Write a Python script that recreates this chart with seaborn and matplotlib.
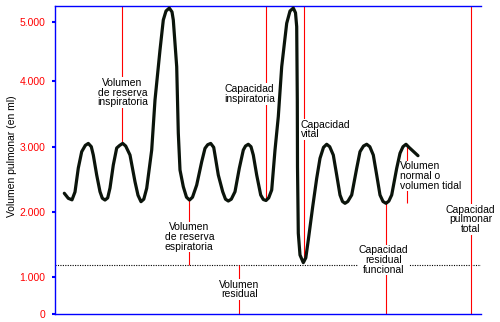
import numpy as np
import matplotlib
matplotlib.use("Agg")
import matplotlib.pyplot as plt
import seaborn as sns
import pandas as pd

sns.set_style("white")
plt.rcParams['font.family'] = ['Liberation Sans', 'DejaVu Sans']

# ---- data (time in arbitrary units, volume in ml) ----
tiempo = [64.3, 68.3, 72, 75, 78.3, 81.7, 85.3, 88.3, 91.3, 93.3,
          96.7, 100, 102.3, 105, 107.7, 110, 113.3, 116.7, 119.7, 122.7,
          125.7, 130, 135, 138, 141, 143.8, 146.7, 151.7, 155, 160,
          163.3, 166, 169.3, 172, 173.3, 176.7, 178.3, 180, 183.3, 186.5,
          189.5, 192.5, 196.7, 201.7, 205, 207.7, 210.7, 213.7, 215, 218.3,
          222.7, 225.5, 228.3, 231.3, 235, 239.3, 243.3, 245.5, 248.3, 251,
          253.3, 256.7, 260.7, 263.3, 266, 268.7, 271.7, 275, 278.3, 281.7,
          286.7, 290, 293.3, 295.5, 296.7, 297.3, 297.5, 298.3, 300, 303.3,
          305.8, 308.3, 312.7, 316.7, 320, 323.5, 326.7, 329.7, 333.3, 336.7,
          340, 342.5, 345, 347.8, 351.7, 356.7, 360, 363.5, 366.7, 369.8,
          373.3, 376.7, 380, 383, 386, 388.8, 391.7, 396.7, 400, 403,
          406, 409, 418]
volumen = [2290, 2213, 2190, 2310, 2675, 2924, 3020, 3050, 3000, 2873,
           2568, 2314, 2215, 2187, 2220, 2370, 2721, 2980, 3020, 3050,
           3010, 2873, 2466, 2260, 2162, 2200, 2366, 2949, 3711, 4523,
           5029, 5180, 5230, 5165, 5029, 4241, 3208, 2645, 2390, 2230,
           2187, 2230, 2416, 2771, 2975, 3030, 3050, 2990, 2873, 2568,
           2314, 2200, 2172, 2200, 2314, 2671, 2949, 3010, 3037, 3000,
           2873, 2568, 2264, 2195, 2180, 2220, 2340, 2949, 3457, 4241,
           4973, 5180, 5230, 5150, 4916, 3711, 2695, 1677, 1343, 1225,
           1300, 1574, 2085, 2518, 2823, 2990, 3037, 3000, 2873, 2568,
           2264, 2165, 2137, 2165, 2264, 2671, 2924, 3010, 3037, 3000,
           2873, 2568, 2264, 2165, 2137, 2170, 2264, 2671, 2900, 3000,
           3037, 2990, 2863]
volumen_residual = 1190
y_ticks = [0, 1000, 2000, 3000, 4000, 5000]
y_tick_labels = ["0", "1.000", "2.000", "3.000", "4.000", "5.000"]
y_label = "Volumen pulmonar (en ml)"

# ---- non-uniform axis scale as drawn in the original ----
_vals = np.array([-1000, 0, 1000, 2000, 3000, 4000, 5000, 6000], float)
_pos = np.array([-36.7, 0, 36.7, 101.7, 167.3, 233.0, 292.3, 351.6], float)
def fwd(v):
    return np.interp(v, _vals, _pos)
def inv(p):
    return np.interp(p, _pos, _vals)

W, H = 500, 322
fig = plt.figure(figsize=(W / 100, H / 100), dpi=100)
x0, x1, ytop, ybot = 54.7, 481.0, 6.0, 314.0
ax = fig.add_axes([x0 / W, (H - ybot) / H, (x1 - x0) / W, (ybot - ytop) / H])
ax.set_yscale('function', functions=(fwd, inv))
ax.set_xlim(x0, x1)
ax.set_ylim(0, inv(ybot - ytop))

def py(p):  # pixel row -> data value (for annotation layout)
    return float(inv(ybot - p))

df = pd.DataFrame({"t": tiempo, "v": volumen})
sns.lineplot(data=df, x="t", y="v", sort=False, estimator=None, color="#0b140b",
             linewidth=2.3, ax=ax, zorder=3, solid_joinstyle="round", solid_capstyle="round")

# dotted residual-volume line
ax.axhline(volumen_residual, color="black", linestyle=(0, (1, 1.2)), linewidth=0.8, zorder=1)

red = "#ff0000"
fs = 7.5
bb = dict(facecolor="white", edgecolor="none", pad=0.6)
def ann(x, p0, p1, text, tx, ty, ha="center"):
    ax.plot([x, x], [py(p0), py(p1)], color=red, linewidth=0.8, zorder=2, solid_capstyle="butt")
    ax.text(tx, py(ty), text, ha=ha, va="center", fontsize=fs, color="black",
            linespacing=0.95, bbox=bb, zorder=2.5, multialignment="center" if ha == "center" else "left")

ann(122.3, 6, 143, "Volumen\nde reserva\ninspiratoria", 122.3, 92.5)
ann(265.7, 6, 200, "Capacidad\ninspiratoria", 249.5, 94)
ann(304.3, 6, 262, "Capacidad\nvital", 300.5, 129.5, ha="left")
ann(189.3, 200, 265, "Volumen\nde reserva\nespiratoria", 189.3, 237)
ann(239.3, 265, 314, "Volumen\nresidual", 239.3, 289.5)
ann(406.7, 144, 203, "Volumen\nnormal o\nvolumen tidal", 399.5, 176, ha="left")
ann(385.7, 203, 314, "Capacidad\nresidual\nfuncional", 383.3, 260)
ann(471.3, 6, 314, "Capacidad\npulmonar\ntotal", 470.7, 219.5)

# axes styling
for s in ["top", "bottom", "left"]:
    ax.spines[s].set_color("#0000ff")
    ax.spines[s].set_linewidth(1.0)
ax.spines["right"].set_visible(False)
ax.set_xticks([])
ax.set_yticks(y_ticks)
ax.set_yticklabels(y_tick_labels)
ax.tick_params(axis="y", left=True, length=2, width=1.5, color="#0000ff",
               labelcolor=red, labelsize=fs, pad=4.5, direction="out")
ax.set_xlabel("")
ax.set_ylabel(y_label, fontsize=fs, color="black")
ax.yaxis.set_label_coords((17 - x0) / (x1 - x0), (ybot - 156) / (ybot - ytop))

fig.savefig("out.png", dpi=100)
